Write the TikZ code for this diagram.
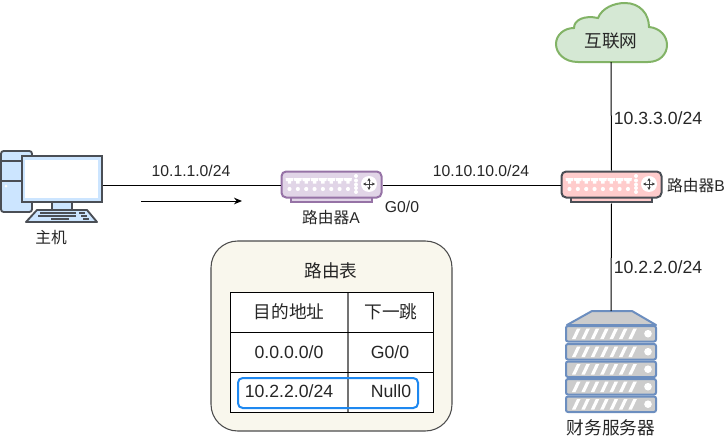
\documentclass[tikz,border=0pt]{standalone}
\usepackage{fontspec}
\setmainfont{Liberation Sans}
\newfontfamily\cjk{Noto Sans CJK SC}
\definecolor{rapurple}{HTML}{E1D5E7}
\definecolor{rastroke}{HTML}{9673A6}
\definecolor{rbpink}{HTML}{FFCCCC}
\definecolor{darkline}{HTML}{4A4E55}
\definecolor{srvblue}{HTML}{6C8EBF}
\definecolor{srvgray}{HTML}{CCCCCC}
\definecolor{cloudgreen}{HTML}{D5E8D4}
\definecolor{cloudstroke}{HTML}{82B366}
\definecolor{hostblue}{HTML}{CCE5FF}
\definecolor{panelcream}{HTML}{F9F7ED}
\definecolor{highlight}{HTML}{1E88F0}
\newcommand{\routericon}[4]{%
  % name, left x, fill, stroke
  \begin{scope}[shift={(#2,0)}]
    \draw[line width=1.5pt,draw=#4,fill=#3] (10,197) rectangle (91,202);
    \node[routerbody,draw=#4,fill=#3] (#1) at (50.5,184.5) {};
    \foreach \i in {0,...,7}{
      \fill[white] ({4.5+8.35*\i},178) -- ({12.5+8.35*\i},178) -- ({12+8.35*\i},181) -- ({10.2+8.35*\i},181) -- ({10.2+8.35*\i},183.5) -- ({6.8+8.35*\i},183.5) -- ({6.8+8.35*\i},181) -- ({5+8.35*\i},181) -- cycle;
      \fill[white] ({8.5+8.35*\i},189) circle (2.1);
    }
    \foreach \yy in {176,180.5,184.5,188,192}{\fill[white] (75,\yy) circle (2);}
    \fill[white] (88,184) circle (8);
    \draw[line width=0.6pt,draw=black!75,<->,>={Stealth[length=2.5pt,width=2.5pt]}] (82,184) -- (94,184);
    \draw[line width=0.6pt,draw=black!75,<->,>={Stealth[length=2.5pt,width=2.5pt]}] (88,178) -- (88,190);
  \end{scope}}
\newcommand{\serverrow}[1]{%
  \draw[line width=1.5pt,draw=srvblue,fill=srvgray,rounded corners=1.5] (566,#1) rectangle (656,{#1+15.5});
  \foreach \i in {0,...,6}{
    \fill[white] ({572+9.4*\i},{#1+13}) -- ({575.5+9.4*\i},{#1+13}) -- ({580.5+9.4*\i},{#1+2.5}) -- ({577+9.4*\i},{#1+2.5}) -- cycle;}
  \fill[white] (648,{#1+7.7}) circle (3.8);}
\tikzset{
  lbl/.style={inner sep=0pt,font=\fontsize{11.8pt}{14pt}\selectfont,text=black!85},
  lblb/.style={inner sep=0pt,font=\fontsize{13.25pt}{16pt}\selectfont,text=black!85},
  wire/.style={line width=0.75pt,draw=black},
  routerbody/.style={rounded corners=3.5,line width=1.5pt,minimum width=75pt,minimum height=19.5pt,inner sep=0pt,anchor=center},
  grid/.style={line width=0.75pt,draw=black},
  gridv/.style={line width=1pt,draw=black!55}
}
\usetikzlibrary{arrows.meta}
\begin{document}
\begin{tikzpicture}[x=0.75pt,y=-0.75pt]
\useasboundingbox (0,0) rectangle (726,439);
% host
\draw[line width=1.4pt,draw=darkline,fill=hostblue,rounded corners=2] (1,151) rectangle (32,212);
\draw[line width=1.2pt,draw=darkline] (1,161) -- (21,161) (1,181) -- (21,181);
\fill[white] (6,186) circle (1.5);
\draw[line width=1.4pt,draw=darkline,fill=hostblue] (52,202) rectangle (72,210);
\draw[line width=1.4pt,draw=darkline,fill=hostblue,line join=round] (37,210) -- (87,210) -- (97,222) -- (26,222) -- cycle;
\draw[line width=1.2pt,draw=darkline] (40,213) -- (76,213) (79,213) -- (85,213) (38,216) -- (76,216) (81,216) -- (87,216) (51,219) -- (69,219) (83,219) -- (89,219);
\node[draw=darkline,line width=1.5pt,fill=hostblue,minimum width=60pt,minimum height=34pt,inner sep=0pt] (host) at (61.5,179) {};
\fill[white] (25,160) rectangle (98,198);
\node[lbl] (hostlabel) at (51,238) {\cjk 主机};
% routers
\routericon{ra}{281}{rapurple}{rastroke}
\routericon{rb}{561}{rbpink}{darkline}
\node[lbl] (ralabel) at (331,218) {\cjk 路由器\rmfamily A};
\node[lbl] (rblabel) at (696,186) {\cjk 路由器\rmfamily B};
\node[lbl] (g0) at (402,207) {G0/0};
% cloud
\draw[line width=1.5pt,draw=cloudstroke,fill=cloudgreen]
  (578,62) .. controls (564,62) and (556,53) .. (556,44)
  .. controls (556,35) and (564,28) .. (574,28)
  .. controls (574,20) and (584,15) .. (598,18)
  .. controls (602,8) and (614,3) .. (625,3)
  .. controls (640,3) and (649,14) .. (649,27)
  .. controls (660,28) and (667,36) .. (667,45)
  .. controls (667,54) and (660,62) .. (648,62) -- cycle;
\node[lbl,minimum width=83pt,minimum height=44pt] (cloud) at (611,32.5) {};
\node[lblb] (cloudtext) at (611,41) {\cjk 互联网};
% server
\draw[line width=1.5pt,draw=srvblue,fill=srvgray,line join=round] (592,311) -- (632,311) -- (656,325) -- (567,325) -- cycle;
\coordinate (srv) at (611,311);
\serverrow{326}
\serverrow{344}
\serverrow{361.5}
\serverrow{379}
\serverrow{396.5}
\node[lblb] (srvlabel) at (611,428) {\cjk 财务服务器};
% connectors
\draw[wire] ([yshift=-1pt]ra.west -| host.east) -- ([yshift=-1pt]ra.west);
\draw[wire] ([yshift=-1pt]ra.east) -- ([yshift=-1pt]rb.west);
\draw[wire] (cloud.south) -- (rb.north);
\draw[wire] (rb.south) ++(0,5) -- (srv);
\coordinate (arrowa) at (141,201);
\coordinate (arrowb) at (242,201);
\draw[wire,-{Stealth[length=6pt,width=5pt]}] (arrowa) -- (arrowb);
% link labels
\node[lbl] (l1) at (191,171) {10.1.1.0/24};
\node[lbl] (l2) at (481,171) {10.10.10.0/24};
\node[lblb] (l3) at (658,118) {10.3.3.0/24};
\node[lblb] (l4) at (658,267) {10.2.2.0/24};
% routing table
\draw[line width=0.8pt,draw=black!70,fill=panelcream,rounded corners=20pt] (211,241) rectangle (452,431);
\node[lblb] (title) at (331,271) {\cjk 路由表};
\fill[white] (230,292) rectangle (433,412);
\draw[gridv] (348,292) -- (348,412);
\draw[grid] (230,292) rectangle (433,412);
\draw[grid] (230,332) -- (433,332) (230,372) -- (433,372);
\draw[line width=1.5pt,draw=highlight,rounded corners=3.5] (238,378) rectangle (418,408);
\node[lblb] (h1) at (289,312) {\cjk 目的地址};
\node[lblb] (h2) at (391,312) {\cjk 下一跳};
\node[lblb] (a1) at (289,352) {0.0.0.0/0};
\node[lblb] (a2) at (390,352) {G0/0};
\node[lblb] (b1) at (289,391) {10.2.2.0/24};
\node[lblb] (b2) at (391,391) {Null0};
\end{tikzpicture}
\end{document}
